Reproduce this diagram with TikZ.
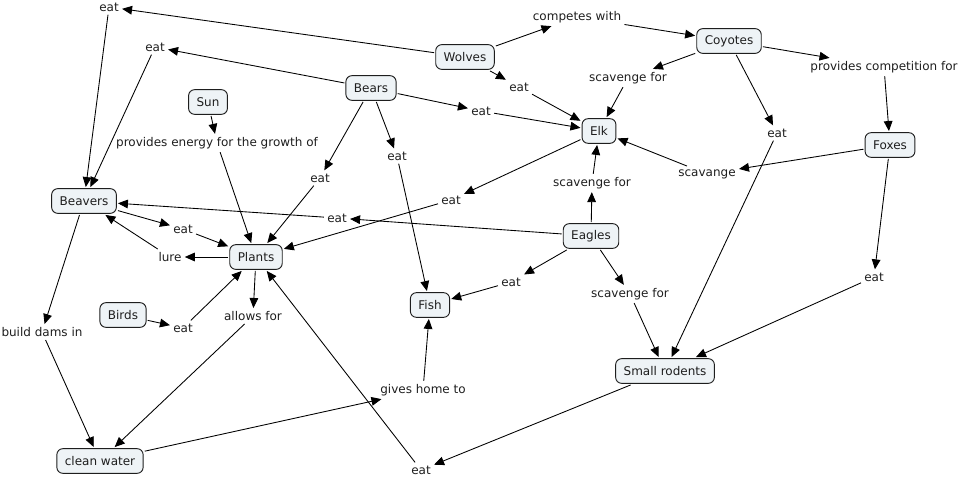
\documentclass[tikz,border=0pt]{standalone}
\usepackage{fontspec}
\setmainfont{DejaVu Sans}
\usetikzlibrary{arrows.meta}
\definecolor{cfill}{RGB}{238,243,246}
\definecolor{ink}{RGB}{30,30,30}
\begin{document}
\begin{tikzpicture}[x=0.75pt,y=-0.75pt,
  every node/.style={font=\fontsize{9}{11}\selectfont, text=ink},
  concept/.style={draw=ink, line width=0.7pt, rounded corners=4.5pt, fill=cfill, inner xsep=6pt, inner ysep=2pt, minimum height=18.5pt, outer sep=1.2pt},
  link/.style={inner sep=2pt, outer sep=0.5pt},
  arr/.style={draw=black, line width=0.65pt, -{Triangle[length=7.5pt,width=6.5pt]}}]
\useasboundingbox (0,0) rectangle (960,479);
% concepts
\node[concept] (wolves) at (465,57) {Wolves};
\node[concept] (coyotes) at (729,41) {Coyotes};
\node[concept] (bears) at (371,88) {Bears};
\node[concept] (sun) at (208,102) {Sun};
\node[concept] (elk) at (599,131) {Elk};
\node[concept] (foxes) at (890,145) {Foxes};
\node[concept] (beavers) at (84,201) {Beavers};
\node[concept] (plants) at (256,257) {Plants};
\node[concept] (eagles) at (591,236) {Eagles};
\node[concept] (fish) at (430,305) {Fish};
\node[concept] (birds) at (123,315) {Birds};
\node[concept] (rodents) at (665,371) {Small rodents};
\node[concept] (water) at (100,461) {clean water};
% linking phrases
\node[link] (l1) at (109,7) {eat};
\node[link] (l2) at (577,17) {competes with};
\node[link] (l3) at (519,87) {eat};
\node[link] (l4) at (155,47) {eat};
\node[link] (l5) at (481,111) {eat};
\node[link] (l6) at (320,178) {eat};
\node[link] (l7) at (397,156) {eat};
\node[link] (l8) at (217,143) {provides energy for the growth of};
\node[link] (l9) at (628,78) {scavenge for};
\node[link] (l10) at (884,67) {provides competition for};
\node[link] (l11) at (777,133) {eat};
\node[link] (l12) at (707,174) {scavange};
\node[link] (l13) at (874,277) {eat};
\node[link] (l14) at (451,200) {eat};
\node[link] (l15) at (592,183) {scavenge for};
\node[link] (l16) at (337,218) {eat};
\node[link] (l17) at (511,282) {eat};
\node[link] (l18) at (630,294) {scavenge for};
\node[link] (l19) at (183,229) {eat};
\node[link] (l20) at (170,257) {lure};
\node[link] (l21) at (253,316) {allows for};
\node[link] (l22) at (183,328) {eat};
\node[link] (l23) at (42,332) {build dams in};
\node[link] (l24) at (423,390) {gives home to};
\node[link] (l25) at (421,470) {eat};
% connectors
\draw[arr] (wolves) -- (l1); \draw[arr] (l1) -- (beavers);
\draw[arr] (wolves) -- (l2); \draw[arr] (l2) -- (coyotes);
\draw[arr] (wolves) -- (l3); \draw[arr] (l3) -- (elk);
\draw[arr] (bears) -- (l4); \draw[arr] (l4) -- (beavers);
\draw[arr] (bears) -- (l5); \draw[arr] (l5) -- (elk);
\draw[arr] (bears) -- (l6); \draw[arr] (l6) -- (plants);
\draw[arr] (bears) -- (l7); \draw[arr] (l7) -- (fish);
\draw[arr] (sun) -- (l8); \draw[arr] (l8) -- (plants);
\draw[arr] (coyotes) -- (l9); \draw[arr] (l9) -- (elk);
\draw[arr] (coyotes) -- (l10); \draw[arr] (l10) -- (foxes);
\draw[arr] (coyotes) -- (l11); \draw[arr] (l11) -- (rodents);
\draw[arr] (foxes) -- (l12); \draw[arr] (l12) -- (elk);
\draw[arr] (foxes) -- (l13); \draw[arr] (l13) -- (rodents);
\draw[arr] (elk) -- (l14); \draw[arr] (l14) -- (plants);
\draw[arr] (eagles) -- (l15); \draw[arr] (l15) -- (elk);
\draw[arr] (eagles) -- (l16); \draw[arr] (l16) -- (beavers);
\draw[arr] (eagles) -- (l17); \draw[arr] (l17) -- (fish);
\draw[arr] (eagles) -- (l18); \draw[arr] (l18) -- (rodents);
\draw[arr] (beavers) -- (l19); \draw[arr] (l19) -- (plants);
\draw[arr] (plants) -- (l20); \draw[arr] (l20) -- (beavers);
\draw[arr] (plants) -- (l21); \draw[arr] (l21) -- (water);
\draw[arr] (birds) -- (l22); \draw[arr] (l22) -- (plants);
\draw[arr] (beavers) -- (l23); \draw[arr] (l23) -- (water);
\draw[arr] (water) -- (l24); \draw[arr] (l24) -- (fish);
\draw[arr] (rodents) -- (l25); \draw[arr] (l25) -- (plants);
\end{tikzpicture}
\end{document}
